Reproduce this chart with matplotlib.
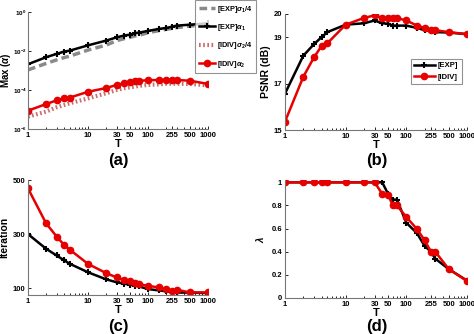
import numpy as np
import matplotlib
matplotlib.use('Agg')
import matplotlib.pyplot as plt
from matplotlib.ticker import FixedLocator, NullFormatter, LogLocator

plt.rcParams['font.family'] = ['Liberation Sans', 'DejaVu Sans']
plt.rcParams['font.weight'] = 'bold'
plt.rcParams['mathtext.fontset'] = 'custom'
plt.rcParams['mathtext.rm'] = 'Liberation Sans'
plt.rcParams['mathtext.it'] = 'Liberation Sans:italic'

# data
T = [1, 2, 3, 4, 5, 10, 20, 30, 40, 50, 60, 70, 100, 150, 200, 255, 300, 500, 1000]
xtick_vals = [1, 10, 30, 50, 100, 255, 500, 1000]

sigma1_4 = [1.07e-3, 2.3e-3, 3.5e-3, 4.6e-3, 5.5e-3, 1.12e-2, 2.0e-2, 3.4e-2, 4.3e-2, 5.0e-2,
            5.9e-2, 6.3e-2, 8.7e-2, 0.11, 0.129, 0.145, 0.158, 0.19, 0.24]
alpha1 = [2.1e-3, 4.8e-3, 7.1e-3, 9.3e-3, 1.05e-2, 1.95e-2, 3.4e-2, 5.0e-2, 6.2e-2, 6.9e-2,
          8.1e-2, 8.7e-2, 0.107, 0.135, 0.151, 0.178, 0.2, 0.224, 0.263]
sigma2_4 = [4.3e-6, 7.8e-6, 1.3e-5, 1.7e-5, 2.1e-5, 3.7e-5, 6.8e-5, 1.0e-4, 1.23e-4, 1.38e-4,
            1.48e-4, 1.62e-4, 1.82e-4, 1.95e-4, 2.1e-4, 2.1e-4, 2.1e-4, 2.05e-4, 1.74e-4]
alpha2 = [8.7e-6, 1.9e-5, 2.95e-5, 3.7e-5, 4.1e-5, 8.1e-5, 1.26e-4, 1.82e-4, 2.19e-4, 2.45e-4,
          2.75e-4, 2.9e-4, 3.2e-4, 3.25e-4, 3.4e-4, 3.4e-4, 3.25e-4, 3.0e-4, 2.05e-4]

psnr_exp = [16.57, 18.2, 18.7, 19.0, 19.22, 19.54, 19.6, 19.72, 19.6, 19.58,
            19.5, 19.5, 19.5, 19.4, 19.3, 19.28, 19.22, 19.2, 19.13]
psnr_idiv = [15.36, 17.29, 18.13, 18.62, 18.74, 19.54, 19.83, 19.94, 19.83, 19.83,
             19.83, 19.83, 19.72, 19.5, 19.4, 19.32, 19.3, 19.22, 19.13]

iter_exp = [300, 246, 221, 203, 190, 159, 133, 122, 117, 113, 110, 107, 97, 92, 89, 85, 84, 84, 82]
iter_idiv = [469, 340, 291, 260, 242, 190, 156, 140, 130, 125, 119, 115, 109, 103, 97, 89.5, 94.5, 84.5, 84.5]

lam_exp = [1, 1, 1, 1, 1, 1, 1, 1, 1, 0.9, 0.85, 0.85, 0.65, 0.56, 0.45, 0.4, 0.34, 0.25, 0.15]
lam_idiv = [1, 1, 1, 1, 1, 1, 1, 1, 0.9, 0.89, 0.8, 0.8, 0.7, 0.595, 0.5, 0.4, 0.4, 0.25, 0.147]

RED = '#e60000'
PINK = '#cc6b6b'
GRAY = '#8a8a8a'

fig = plt.figure(figsize=(4.74, 3.34), dpi=100)
W, H = 474.0, 334.0


def make_ax(x0, x1, ytop, ybot):
    ax = fig.add_axes([x0 / W, 1 - ybot / H, (x1 - x0) / W, (ybot - ytop) / H])
    ax.set_xscale('log')
    ax.set_xlim(1, 1000)
    ax.spines['top'].set_visible(False)
    ax.spines['right'].set_visible(False)
    for s in ['left', 'bottom']:
        ax.spines[s].set_color('#777777')
        ax.spines[s].set_linewidth(0.8)
    ax.xaxis.set_major_locator(FixedLocator(xtick_vals))
    ax.set_xticklabels([str(v) for v in xtick_vals])
    ax.xaxis.set_minor_locator(LogLocator(base=10, subs=np.arange(2, 10)))
    ax.xaxis.set_minor_formatter(NullFormatter())
    ax.tick_params(which='both', direction='in', labelsize=5.5, length=2, width=0.6, pad=2)
    ax.tick_params(which='minor', length=1.5)
    ax.set_xlabel('T', fontsize=8, fontweight='bold', labelpad=0)
    return ax


lkw_b = dict(color='black', lw=1.8, marker='+', ms=5, mew=1.5)
lkw_r = dict(color=RED, lw=1.8, marker='o', ms=4.5, mec=RED)

# (a)
axa = make_ax(28, 208, 12, 129)
axa.set_yscale('log')
axa.set_ylim(1e-6, 1)
axa.yaxis.set_major_locator(FixedLocator([1e-6, 1e-4, 1e-2, 1]))
axa.yaxis.set_minor_locator(FixedLocator([]))
axa.plot(T, sigma1_4, color=GRAY, lw=2.5, ls=(0, (2.2, 1.2)), label=r'[EXP]$\sigma_1$/4')
axa.plot(T, alpha1, label=r'[EXP]$\alpha_1$', **lkw_b)
axa.plot(T, sigma2_4, color=PINK, lw=3, ls=(0, (0.4, 0.6)), label=r'[IDIV]$\sigma_2$/4')
axa.plot(T, alpha2, label=r'[IDIV]$\alpha_2$', **lkw_r)
axa.set_ylabel(r'Max ($\alpha$)', fontsize=7, fontweight='bold', labelpad=0)
axa.tick_params(axis='y', labelsize=4.5, pad=1)
leg = axa.legend(loc='upper left', bbox_to_anchor=(195 / W, 1.0), bbox_transform=fig.transFigure,
                 fontsize=5.3, frameon=True, fancybox=False, borderpad=0.5, labelspacing=1.0,
                 handlelength=2.2, handletextpad=0.3, borderaxespad=0)
leg.get_frame().set_edgecolor('#777777')
leg.get_frame().set_linewidth(0.8)
for t in leg.get_texts():
    t.set_fontweight('bold')

# (b)
axb = make_ax(285, 467, 14, 130)
axb.set_ylim(15, 20)
axb.set_yticks([15, 17, 19, 20])
axb.plot(T, psnr_exp, label='[EXP]', **lkw_b)
axb.plot(T, psnr_idiv, label='[IDIV]', **lkw_r)
axb.set_ylabel('PSNR (dB)', fontsize=7.5, fontweight='bold', labelpad=2)
legb = axb.legend(loc='lower right', bbox_to_anchor=(0.97, 0.40), fontsize=5.5, frameon=True,
                  fancybox=False, borderpad=0.4, labelspacing=0.5, handlelength=2.8,
                  handletextpad=0.4, borderaxespad=0)
legb.get_frame().set_edgecolor('#777777')
legb.get_frame().set_linewidth(0.8)

# (c)
axc = make_ax(28, 208, 180, 295)
axc.set_ylim(75, 500)
axc.set_yticks([100, 300, 500])
axc.plot(T, iter_exp, **lkw_b)
axc.plot(T, iter_idiv, **lkw_r)
axc.set_ylabel('Iteration', fontsize=7.5, fontweight='bold', labelpad=2)

# (d)
axd = make_ax(285, 467, 180, 298)
axd.set_ylim(0, 1.02)
axd.set_yticks([0, 0.2, 0.4, 0.6, 0.8, 1])
axd.set_yticklabels(['0', '0.2', '0.4', '0.6', '0.8', '1'])
axd.plot(T, lam_exp, **lkw_b)
axd.plot(T, lam_idiv, **lkw_r)
axd.set_ylabel(r'$\lambda$', fontsize=7, labelpad=4)

for lab, x, y in [('(a)', 118, 160), ('(b)', 377, 160), ('(c)', 118, 327), ('(d)', 377, 327)]:
    fig.text(x / W, 1 - y / H, lab, ha='center', va='center', fontsize=12, fontweight='bold')

fig.savefig('out.png', dpi=100)
